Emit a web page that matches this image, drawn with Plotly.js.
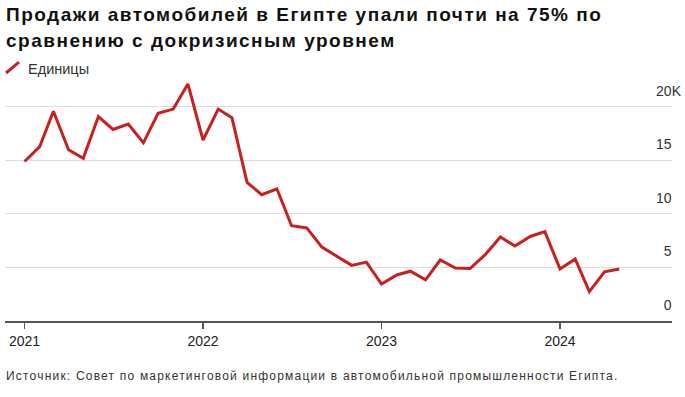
<!DOCTYPE html>
<html>
<head>
<meta charset="utf-8">
<script src="https://cdn.plot.ly/plotly-3.0.1.min.js"></script>
<style>html,body{margin:0;padding:0;background:#fff;}#chart{width:685px;height:397px;}</style>
</head>
<body>
<div id="chart"></div>
<script>
const months = [
  '2021-01-01','2021-02-01','2021-03-01','2021-04-01','2021-05-01','2021-06-01',
  '2021-07-01','2021-08-01','2021-09-01','2021-10-01','2021-11-01','2021-12-01',
  '2022-01-01','2022-02-01','2022-03-01','2022-04-01','2022-05-01','2022-06-01',
  '2022-07-01','2022-08-01','2022-09-01','2022-10-01','2022-11-01','2022-12-01',
  '2023-01-01','2023-02-01','2023-03-01','2023-04-01','2023-05-01','2023-06-01',
  '2023-07-01','2023-08-01','2023-09-01','2023-10-01','2023-11-01','2023-12-01',
  '2024-01-01','2024-02-01','2024-03-01','2024-04-01','2024-05-01'
];
const units = [
  14.9, 16.3, 19.6, 16.0, 15.2, 19.1, 17.9, 18.4, 16.65, 19.4, 19.8, 22.15,
  16.9, 19.8, 19.0, 12.95, 11.8, 12.35, 8.9, 8.7, 6.9, 6.1, 5.2, 5.5,
  3.45, 4.3, 4.65, 3.85, 5.7, 4.95, 4.9, 6.2, 7.85, 7.0, 7.9, 8.35,
  4.85, 5.8, 2.75, 4.6, 4.85
];
const yTickVals = [0, 5, 10, 15, 20];
const yTickText = ['0', '5', '10', '15', '20K'];
const xTickVals = ['2021-01-01', '2022-01-01', '2023-01-01', '2024-01-01'];
const xTickText = ['2021', '2022', '2023', '2024'];
const seriesName = 'Единицы';
const titleLines = ['Продажи автомобилей в Египте упали почти на 75% по', 'сравнению с докризисным уровнем'];
const sourceText = 'Источник: Совет по маркетинговой информации в автомобильной промышленности Египта.';

const W = 685, H = 397;
const L = 5, R = 672, T = 81, B = 321.5;
const px = x => (x - L) / (R - L);
const py = y => (B - y) / (B - T);

const font = 'Liberation Sans, Arial, Helvetica, sans-serif';
const hidden = '<span style="fill:rgba(0,0,0,0)">K</span>';
const yText = yTickText.map(t => t.endsWith('K') ? t : t + hidden);
const spaced = (t, ls) => '<span style="letter-spacing:' + ls + 'px">' + t + '</span>';

const trace = {
  x: months, y: units, type: 'scatter', mode: 'lines', name: seriesName,
  line: {color: '#c8201e', width: 3}, cliponaxis: false, hoverinfo: 'skip'
};

const titleAnn = titleLines.map((t, i) => ({
  text: '<b>' + spaced(t, 1.5) + '</b>', xref: 'paper', yref: 'paper',
  x: px(4), y: py(14 + i * 26), xanchor: 'left', yanchor: 'middle',
  showarrow: false, font: {family: font, size: 19, color: '#111'}
}));

const layout = {
  width: W, height: H,
  margin: {l: L, r: W - R, t: T, b: H - B, pad: 0},
  paper_bgcolor: '#fff', plot_bgcolor: '#fff',
  showlegend: false,
  font: {family: font, color: '#222'},
  xaxis: {
    type: 'date',
    range: ['2020-11-22', '2024-08-17'],
    tickvals: xTickVals, ticktext: xTickText,
    showgrid: false, zeroline: false,
    showline: true, linecolor: '#555', linewidth: 2,
    ticks: 'outside', ticklen: 6, tickwidth: 1.5, tickcolor: '#555',
    tickfont: {family: font, size: 14, color: '#222'}
  },
  yaxis: {
    range: [0, (B - T) / ((B - 107) / 20)],
    side: 'right',
    tickvals: yTickVals, ticktext: yText,
    ticklabelposition: 'inside',
    ticklabelshift: -16,
    ticklabelstandoff: -12,
    showgrid: true, gridcolor: '#dcdcdc', gridwidth: 1,
    zeroline: false, showline: false, ticks: '',
    tickfont: {family: font, size: 14, color: '#333'}
  },
  shapes: [{
    type: 'line', xref: 'paper', yref: 'paper',
    x0: px(6), y0: py(73), x1: px(19), y1: py(62),
    line: {color: '#c8201e', width: 3}
  }],
  annotations: titleAnn.concat([{
    text: seriesName, xref: 'paper', yref: 'paper',
    x: px(26), y: py(69), xanchor: 'left', yanchor: 'middle',
    showarrow: false, font: {family: font, size: 14.5, color: '#333'}
  }, {
    text: spaced(sourceText, 1.2), xref: 'paper', yref: 'paper',
    x: px(4), y: py(377), xanchor: 'left', yanchor: 'middle',
    showarrow: false, font: {family: font, size: 12, color: '#333'}
  }])
};

Plotly.newPlot('chart', [trace], layout, {staticPlot: true, displayModeBar: false});
</script>
</body>
</html>
